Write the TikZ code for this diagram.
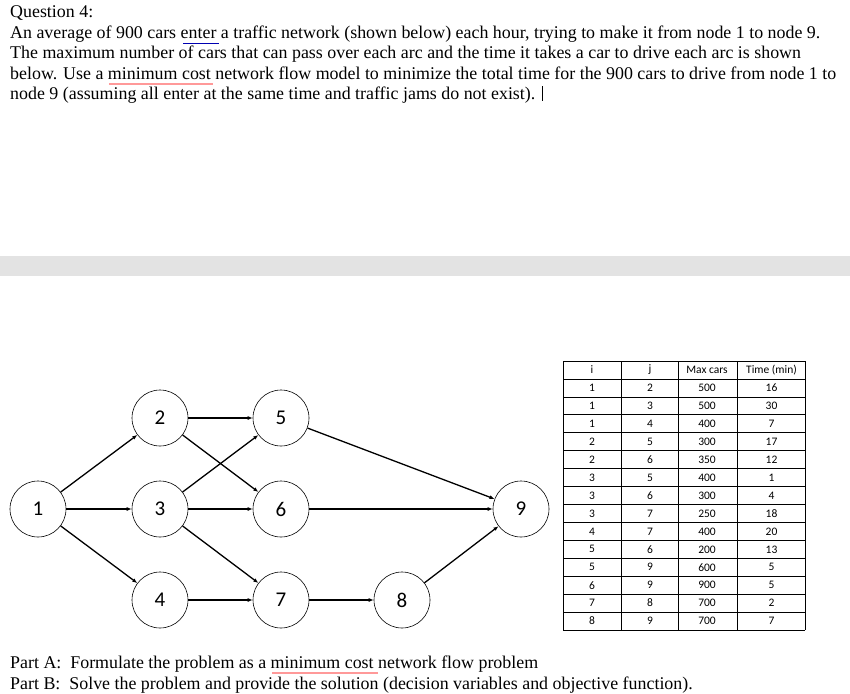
\documentclass[tikz,border=0pt]{standalone}
\usepackage{fontspec}
\setmainfont{Liberation Serif}
\newfontfamily\carlfont{Carlito}
\usetikzlibrary{arrows.meta}
\begin{document}
\begin{tikzpicture}[x=1pt,y=-1pt,
  nd/.style={circle,draw,line width=0.6pt,minimum size=56pt,inner sep=0pt,font=\carlfont\fontsize{21}{21}\selectfont},
  ar/.style={-{Latex[length=5pt,width=4pt]},line width=1.3pt},
  tx/.style={anchor=base west,inner sep=0pt,font=\fontsize{17.9}{17.9}\selectfont},
  tc/.style={inner sep=0pt,font=\carlfont\fontsize{11.5}{11.5}\selectfont}]
\useasboundingbox (0,0) rectangle (850,693);
\fill[white] (0,0) rectangle (850,693);
\node[tx] (t0) at (10,18) {Question 4:};
\node[tx] (t1) at (10,39) {An average of 900 cars enter a traffic network (shown below) each hour, trying to make it from node 1 to node 9.};
\node[tx] (t2) at (10,59) {The maximum number of cars that can pass over each arc and the time it takes a car to drive each arc is shown};
\node[tx] (t3) at (10,79) {below. Use a minimum cost network flow model to minimize the total time for the 900 cars to drive from node 1 to};
\node[tx] (t4) at (10,99) {node 9 (assuming all enter at the same time and traffic jams do not exist).};
\draw[blue!70!black,line width=0.8pt] (183,43) -- (219,43);
\draw[red!40,line width=1.6pt] (109,84) -- (213,84);
\draw[line width=0.6pt] (542,86) -- (542,101);
\fill[gray!22] (0,256) rectangle (850,276);
\node[tx] (pa) at (10,668) {Part A:\ \ Formulate the problem as a minimum cost network flow problem};
\node[tx] (pb) at (10,689) {Part B:\ \ Solve the problem and provide the solution (decision variables and objective function).};
\draw[red!40,line width=1.6pt] (272,673) -- (378,673);
% graph
\node[nd] (n1) at (38,509) {1};
\node[nd] (n2) at (160,418) {2};
\node[nd] (n3) at (160,509) {3};
\node[nd] (n4) at (160,600) {4};
\node[nd] (n5) at (281,418) {5};
\node[nd] (n6) at (281,509) {6};
\node[nd] (n7) at (281,600) {7};
\node[nd] (n8) at (402,600) {8};
\node[nd] (n9) at (521,509) {9};
\foreach \a/\b in {1/2,1/3,1/4,2/5,2/6,3/5,3/6,3/7,4/7,5/9,6/9,7/8,8/9}
  \draw[ar] (n\a) -- (n\b);
% table
\foreach \r [count=\k from 0] in {{i/j/Max cars/Time (min)},{1/2/500/16},{1/3/500/30},{1/4/400/7},{2/5/300/17},{2/6/350/12},{3/5/400/1},{3/6/300/4},{3/7/250/18},{4/7/400/20},{5/6/200/13},{5/9/600/5},{6/9/900/5},{7/8/700/2},{8/9/700/7}}{
  \foreach \a/\b/\c/\d in \r {
    \node[tc] (ca\k) at (592,{370+17.93*\k}) {\a};
    \node[tc] (cb\k) at (650,{370+17.93*\k}) {\b};
    \node[tc] (cc\k) at (707,{370+17.93*\k}) {\c};
    \node[tc] (cd\k) at (771.5,{370+17.93*\k}) {\d};
  }
}
\foreach \k in {0,...,15} \draw[line width=0.6pt] (563,{361+17.93*\k}) -- (805,{361+17.93*\k});
\foreach \x in {563,621,678,737,805} \draw[line width=0.6pt] (\x,361) -- (\x,{361+17.93*15});
\end{tikzpicture}
\end{document}
